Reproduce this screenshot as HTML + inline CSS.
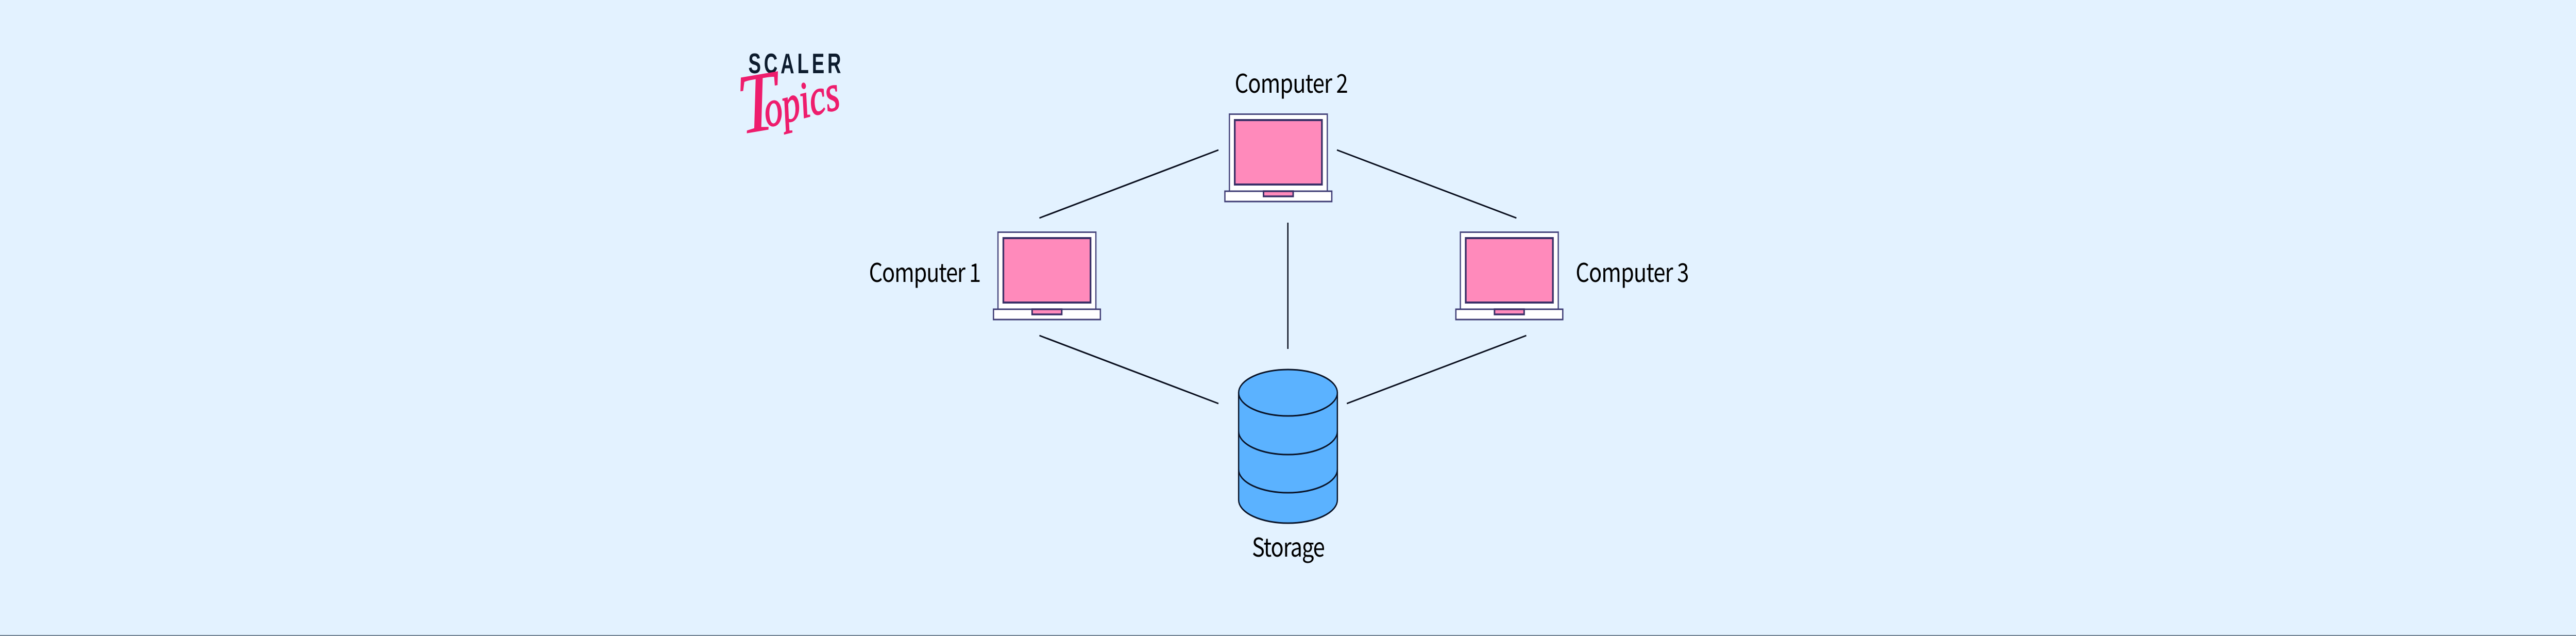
<!DOCTYPE html>
<html>
<head>
<meta charset="utf-8">
<style>
html,body{margin:0;padding:0;width:100%;height:100%;background:#E3F2FF;overflow:hidden}
svg{display:block;width:100vw;height:100vh}
.l{font-family:"Noto Sans CJK JP","Liberation Sans",sans-serif;font-size:50px;fill:#000}
</style>
</head>
<body>
<svg viewBox="0 0 6000 1234" preserveAspectRatio="none" xmlns="http://www.w3.org/2000/svg">
<defs>
<g id="lap">
<rect x="2863.5" y="221.5" width="228" height="150" fill="#fff" stroke="#4a4a80" stroke-width="3"/>
<rect x="2876" y="233" width="203" height="125" fill="#FF8ABB" stroke="#3a3068" stroke-width="4"/>
<rect x="2853" y="371" width="249" height="20" fill="#fff" stroke="#3f3d75" stroke-width="3"/>
<rect x="2943" y="371" width="69" height="10" fill="#FF8ABB" stroke="#3a3068" stroke-width="3.5"/>
</g>
</defs>
<rect width="6000" height="1234" fill="#E3F2FF"/>
<rect x="0" y="1232" width="6000" height="2" fill="#6f8090"/>

<text transform="translate(1743,142) scale(0.8,1)" font-family="Liberation Sans, sans-serif" font-weight="700" font-size="55" fill="#0D1C2E" textLength="270" lengthAdjust="spacing">SCALER</text>
<g fill="#EE1D6D" stroke="#EE1D6D" font-family="Liberation Serif, serif" font-style="italic">
<text transform="translate(1726,260) rotate(-8)" font-size="165" stroke-width="1">T</text>
<text transform="translate(1786,247) rotate(-12)" font-size="100" stroke-width="2" textLength="178" lengthAdjust="spacingAndGlyphs">opics</text>
</g>

<g stroke="#0a0f1e" stroke-width="3" fill="none">
<line x1="2421" y1="423" x2="2838" y2="291"/>
<line x1="3114" y1="291" x2="3532" y2="423"/>
<line x1="2421" y1="651" x2="2838" y2="783"/>
<line x1="3137" y1="783" x2="3555" y2="651"/>
<line x1="2999.7" y1="432" x2="2999.7" y2="677"/>
</g>

<use href="#lap"/>
<use href="#lap" transform="translate(-539,229)"/>
<use href="#lap" transform="translate(538,229)"/>

<g stroke="#0a1428" stroke-width="3" fill="#5BB2FF">
<path d="M2885 762V970A115 45 0 0 0 3115 970V762Z"/>
<ellipse cx="3000" cy="762" rx="115" ry="45"/>
<path d="M2885 837A115 45 0 0 0 3115 837" fill="none"/>
<path d="M2885 911A115 45 0 0 0 3115 911" fill="none"/>
</g>

<text class="l" x="2876" y="180" textLength="264" lengthAdjust="spacing">Computer 2</text>
<text class="l" x="2024" y="547" textLength="261" lengthAdjust="spacing">Computer 1</text>
<text class="l" x="3670" y="547" textLength="264" lengthAdjust="spacing">Computer 3</text>
<text class="l" x="2916" y="1080" textLength="170" lengthAdjust="spacing">Storage</text>
</svg>
</body>
</html>
